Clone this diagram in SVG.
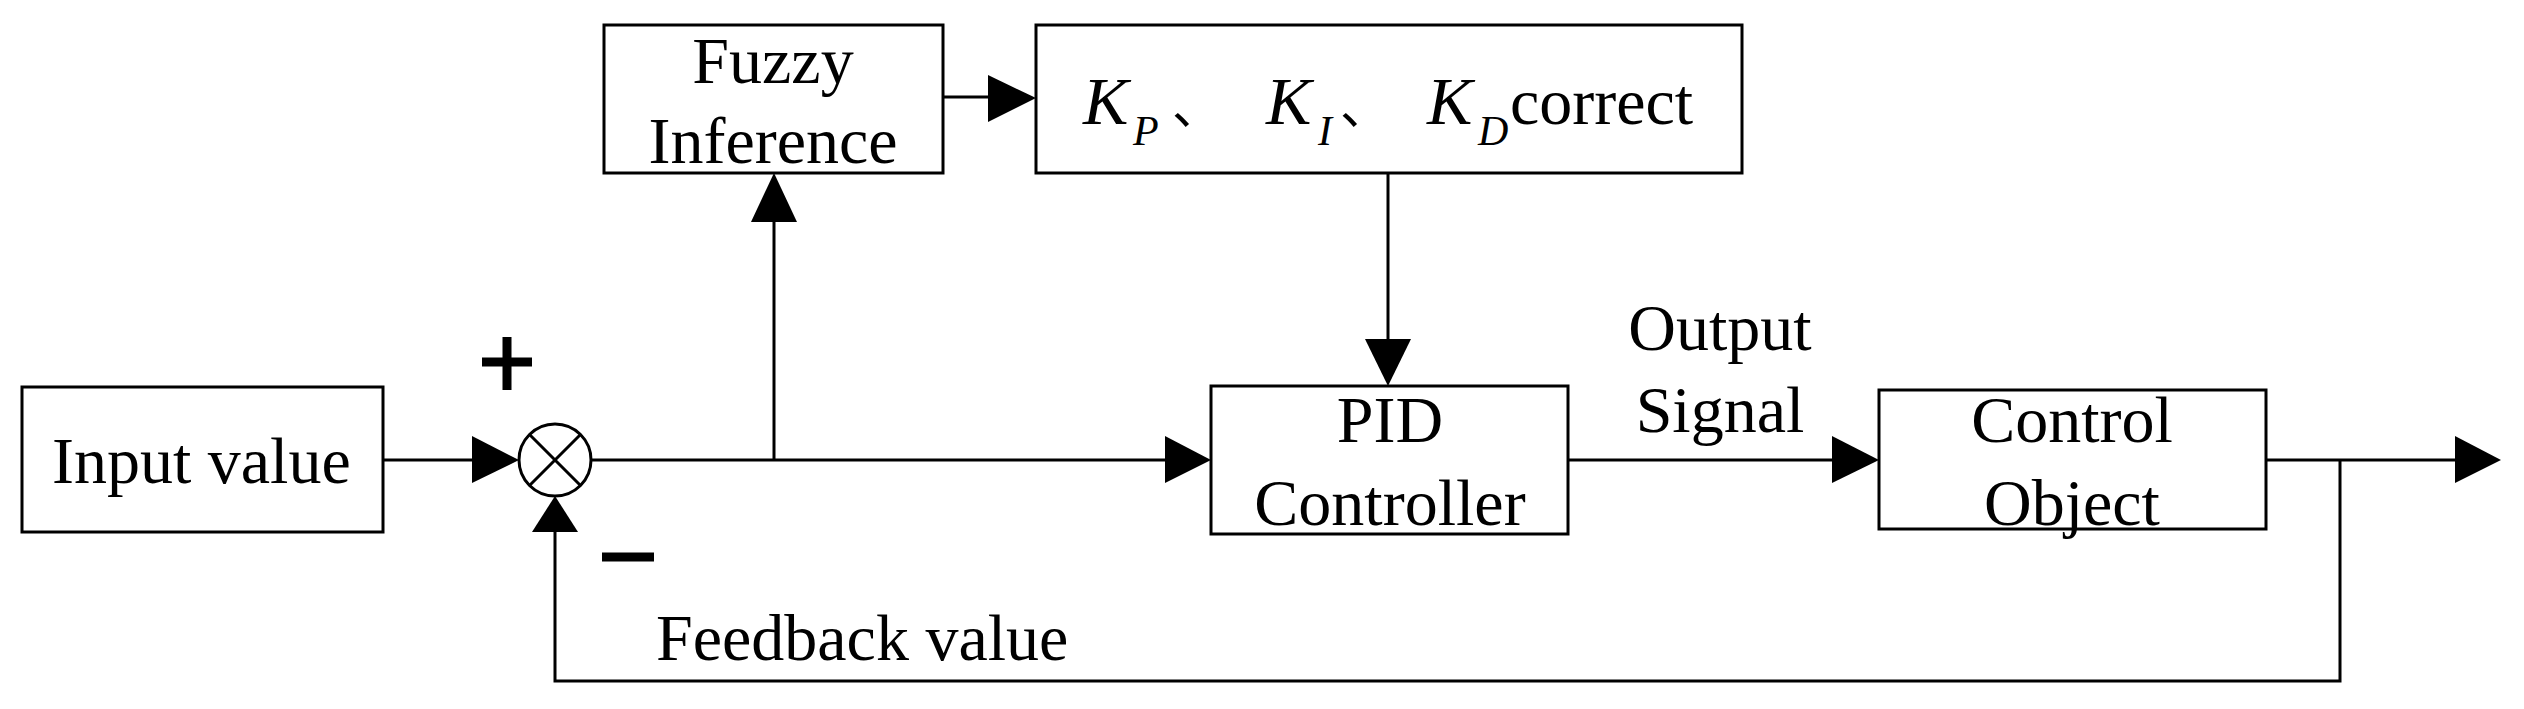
<svg xmlns="http://www.w3.org/2000/svg" width="2524" height="709" viewBox="0 0 2524 709">
<style>
.b{fill:#fff;stroke:#000;stroke-width:3}
.l{fill:none;stroke:#000;stroke-width:3}
.t{font-family:"Liberation Serif",serif;font-size:66px;fill:#000}
.i{font-family:"Liberation Serif",serif;font-size:68px;font-style:italic;fill:#000}
.s{font-family:"Liberation Serif",serif;font-size:42px;font-style:italic;fill:#000}
.c{font-family:"Noto Sans CJK SC",sans-serif;font-size:50px;fill:#000}
</style>
<rect width="2524" height="709" fill="#fff"/>
<g id="connectors">
<path class="l" d="M383 460H475"/><polygon points="472,436 519,460 472,483"/>
<path class="l" d="M592 460H1168"/><polygon points="1165,436 1211,460 1165,483"/>
<path class="l" d="M774 460V220"/><polygon points="751,222 774,173 797,222"/>
<path class="l" d="M943 97H990"/><polygon points="988,75 1036,98 988,122"/>
<path class="l" d="M1388 173V342"/><polygon points="1365,339 1388,386 1411,339"/>
<path class="l" d="M1568 460H1835"/><polygon points="1832,436 1879,460 1832,483"/>
<path class="l" d="M2266 460H2458"/><polygon points="2455,436 2501,460 2455,483"/>
<path class="l" d="M2340 460V681H555V530"/><polygon points="532,532 555,496 578,532"/>
</g>
<g id="sum">
<ellipse class="b" cx="555" cy="460" rx="36" ry="36"/>
<path class="l" d="M530 435L580 485M580 435L530 485"/>
<path d="M482 362H532M507 337V390" stroke="#000" stroke-width="9"/>
<path d="M602 557H654" stroke="#000" stroke-width="9"/>
</g>
<g id="input"><rect class="b" x="22" y="387" width="361" height="145"/><text class="t" x="52" y="483">Input value</text></g>
<g id="fuzzy"><rect class="b" x="604" y="25" width="339" height="148"/><text class="t" x="773" y="83" text-anchor="middle">Fuzzy</text><text class="t" x="773" y="163" text-anchor="middle">Inference</text></g>
<g id="kcorrect"><rect class="b" x="1036" y="25" width="706" height="148"/>
<text class="i" x="1083" y="124">K</text><text class="s" x="1133" y="145">P</text><text class="c" x="1172" y="124">、</text>
<text class="i" x="1266" y="124">K</text><text class="s" x="1318" y="145">I</text><text class="c" x="1340" y="124">、</text>
<text class="i" x="1427" y="124">K</text><text class="s" x="1478" y="145">D</text><text class="t" x="1510" y="124">correct</text></g>
<g id="pid"><rect class="b" x="1211" y="386" width="357" height="148"/><text class="t" x="1390" y="442" text-anchor="middle">PID</text><text class="t" x="1390" y="525" text-anchor="middle">Controller</text></g>
<g id="plant"><rect class="b" x="1879" y="390" width="387" height="139"/><text class="t" x="2072" y="442" text-anchor="middle">Control</text><text class="t" x="2072" y="525" text-anchor="middle">Object</text></g>
<g id="labels"><text class="t" x="1720" y="350" text-anchor="middle">Output</text><text class="t" x="1720" y="432" text-anchor="middle">Signal</text><text class="t" x="656" y="660">Feedback value</text></g>
</svg>
